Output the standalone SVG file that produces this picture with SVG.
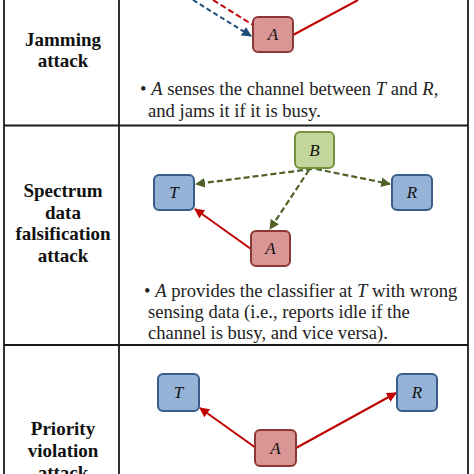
<svg xmlns="http://www.w3.org/2000/svg" width="474" height="474" viewBox="0 0 474 474">
<style>
.grid{stroke:#1a1a1a;stroke-width:1.8;fill:none}
.lbl{font-family:"Liberation Serif",serif;font-weight:bold;font-size:19px;fill:#111;text-anchor:middle}
.txt{font-family:"Liberation Serif",serif;font-size:18.6px;fill:#222}
.it{font-style:italic}
.nt{font-family:"Liberation Serif",serif;font-style:italic;font-size:17px;fill:#111;text-anchor:middle}
.blue{fill:#95b3d7;stroke:#385d8a;stroke-width:2}
.red{fill:#d99694;stroke:#8c3836;stroke-width:2}
.green{fill:#c3d69b;stroke:#76923c;stroke-width:2}
.rl{stroke:#c00000;stroke-width:2;fill:none}
.rd{stroke:#c00000;stroke-width:2;fill:none;stroke-dasharray:6 3}
.bd{stroke:#1f4e79;stroke-width:2;fill:none;stroke-dasharray:5 3}
.gd{stroke:#4f6228;stroke-width:2.2;fill:none;stroke-dasharray:6 3}
</style>
<defs>
<marker id="mr" viewBox="0 0 10 10" refX="9" refY="5" markerWidth="5" markerHeight="5" orient="auto"><path d="M0,0L10,5L0,10z" fill="#c00000"/></marker>
<marker id="mb" viewBox="0 0 10 10" refX="9" refY="5" markerWidth="5" markerHeight="5" orient="auto"><path d="M0,0L10,5L0,10z" fill="#1f4e79"/></marker>
<marker id="mg" viewBox="0 0 10 10" refX="9" refY="5" markerWidth="4.5" markerHeight="4.5" orient="auto"><path d="M0,0L10,5L0,10z" fill="#4f6228"/></marker>
</defs>
<rect width="474" height="474" fill="#fff"/>
<g id="table">
<line class="grid" x1="4" y1="0" x2="4" y2="474"/>
<line class="grid" x1="119" y1="0" x2="119" y2="474"/>
<line class="grid" x1="468" y1="0" x2="468" y2="474"/>
<line class="grid" x1="4" y1="125.5" x2="468" y2="125.5"/>
<line class="grid" x1="4" y1="345" x2="468" y2="345"/>
</g>
<g id="labels">
<text class="lbl" x="63" y="46">Jamming</text>
<text class="lbl" x="63" y="67">attack</text>
<text class="lbl" x="63" y="197">Spectrum</text>
<text class="lbl" x="63" y="219">data</text>
<text class="lbl" x="63" y="240">falsification</text>
<text class="lbl" x="63" y="262">attack</text>
<text class="lbl" x="63" y="435">Priority</text>
<text class="lbl" x="63" y="457">violation</text>
<text class="lbl" x="63" y="479">attack</text>
</g>
<g id="connectors">
<line class="bd" x1="193" y1="0" x2="251" y2="36" marker-end="url(#mb)"/>
<line class="rd" x1="213" y1="0" x2="253" y2="25"/>
<line class="rl" x1="293" y1="35" x2="358" y2="0"/>
<line class="gd" x1="312" y1="169" x2="196" y2="184" marker-end="url(#mg)"/>
<line class="gd" x1="316" y1="169" x2="390" y2="184" marker-end="url(#mg)"/>
<line class="gd" x1="309" y1="170" x2="270" y2="229" marker-end="url(#mg)"/>
<line class="rl" x1="251" y1="249" x2="195" y2="209" marker-end="url(#mr)"/>
<line class="rl" x1="256" y1="448" x2="200" y2="408" marker-end="url(#mr)"/>
<line class="rl" x1="296" y1="448" x2="396" y2="393" marker-end="url(#mr)"/>
</g>
<g id="node-A1"><rect class="red" x="253" y="17" width="40" height="35" rx="5"/><text class="nt" x="273" y="40">A</text></g>
<g id="node-B2"><rect class="green" x="295" y="132" width="39" height="36" rx="5"/><text class="nt" x="314.5" y="156">B</text></g>
<g id="node-T2"><rect class="blue" x="154" y="175" width="40" height="35" rx="5"/><text class="nt" x="174" y="198">T</text></g>
<g id="node-R2"><rect class="blue" x="392" y="175" width="40" height="35" rx="5"/><text class="nt" x="412" y="198">R</text></g>
<g id="node-A2"><rect class="red" x="251" y="231" width="39" height="35" rx="5"/><text class="nt" x="270.5" y="254">A</text></g>
<g id="node-T3"><rect class="blue" x="158" y="374" width="41" height="37" rx="5"/><text class="nt" x="178.5" y="398">T</text></g>
<g id="node-R3"><rect class="blue" x="397" y="374" width="40" height="37" rx="5"/><text class="nt" x="417" y="398">R</text></g>
<g id="node-A3"><rect class="red" x="255" y="430" width="41" height="36" rx="5"/><text class="nt" x="275.5" y="454">A</text></g>
<g id="texts">
<text class="txt" x="140" y="95">• <tspan class="it">A</tspan> senses the channel between <tspan class="it">T</tspan> and <tspan class="it">R</tspan>,</text>
<text class="txt" x="148" y="117">and jams it if it is busy.</text>
<text class="txt" x="144" y="297">• <tspan class="it">A</tspan> provides the classifier at <tspan class="it">T</tspan> with wrong</text>
<text class="txt" x="148" y="318">sensing data (i.e., reports idle if the</text>
<text class="txt" x="148" y="339">channel is busy, and vice versa).</text>
</g>
</svg>
